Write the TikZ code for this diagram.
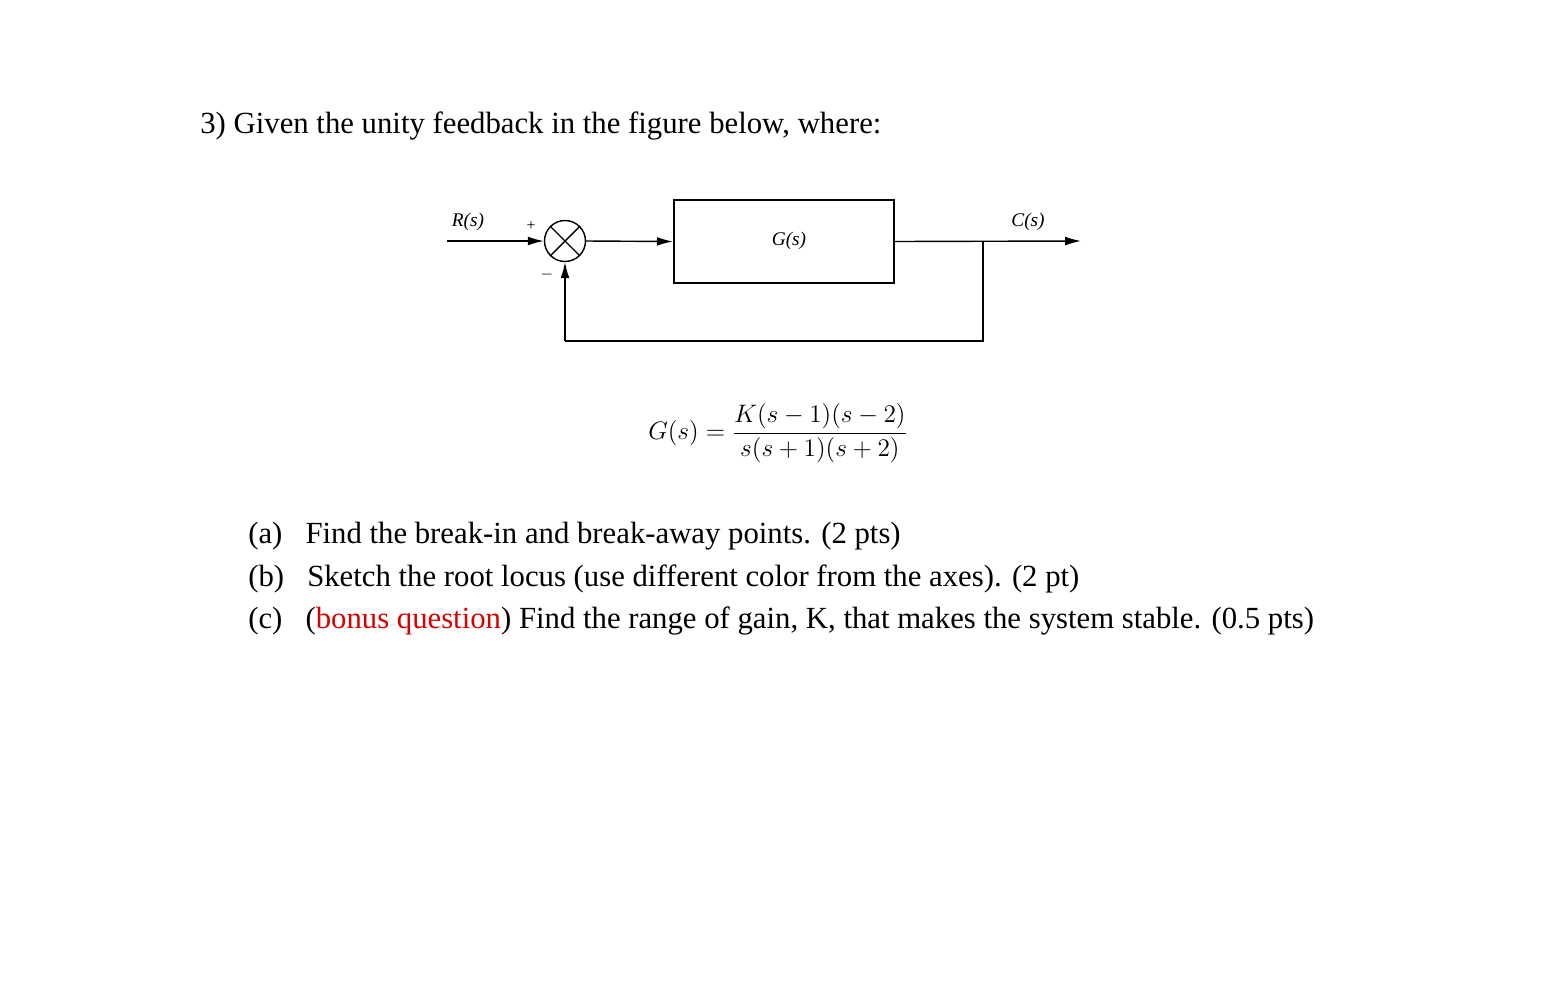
\documentclass[tikz,border=0pt]{standalone}
\usepackage{fontspec}
\setmainfont{Liberation Serif}
\usetikzlibrary{arrows.meta}
\begin{document}
\begin{tikzpicture}[x=0.02cm,y=-0.02cm,
  txt/.style={anchor=base west,inner sep=0,font=\fontsize{17.5pt}{21pt}\selectfont},
  lbl/.style={inner sep=0,font=\fontsize{11pt}{13pt}\selectfont\itshape},
  wire/.style={line width=0.8pt},
  arr/.style={wire,-{Latex[length=9pt,width=5pt]}}]
\useasboundingbox (0,0) rectangle (1556,998);
\node[txt] (title) at (200,133) {3) Given the unity feedback in the figure below, where:};
\node[lbl] (R) at (468,222) {R(s)};
\coordinate (in) at (447,241);
\node[draw,circle,wire,inner sep=0,minimum size=0.82cm] (sum) at (565,241) {};
\draw[wire] (sum.north west) -- (sum.south east) (sum.north east) -- (sum.south west);
\node[inner sep=0,font=\small] (plus) at (531,226) {+};
\node[inner sep=0,font=\small] (minus) at (547,275) {$-$};
\node[draw,line width=1.4pt,minimum width=4.4cm,minimum height=1.66cm,inner sep=0] (G) at (784,241.5) {};
\node[lbl] (Gl) at (789,241) {G(s)};
\node[lbl] (C) at (1028,222) {C(s)};
\coordinate (out) at (1081,241);
\coordinate (tap) at (983,241);
\coordinate (fb) at (983,341);
\coordinate (fb2) at (565,341);
\draw[arr] (in) -- (sum.west);
\draw[arr] (sum.east) -- (G.west);
\draw[arr] (G.east) -- (out);
\draw[wire] (tap) -- (fb) -- (fb2);
\draw[arr] (fb2) -- (sum.south);
\node[inner sep=0,font=\fontsize{15pt}{18pt}\selectfont] (eq) at (778,433)
  {$G(s)=\displaystyle\frac{K(s-1)(s-2)}{s(s+1)(s+2)}$};
\node[txt] (a) at (248,543) {(a)\hspace{0.5em} Find the break-in and break-away points. (2 pts)};
\node[txt] (b) at (248,586) {(b)\hspace{0.5em} Sketch the root locus (use different color from the axes). (2 pt)};
\node[txt] (c) at (248,628) {(c)\hspace{0.5em} (\textcolor{red!85!black}{bonus question}) Find the range of gain, K, that makes the system stable. (0.5 pts)};
\end{tikzpicture}
\end{document}
